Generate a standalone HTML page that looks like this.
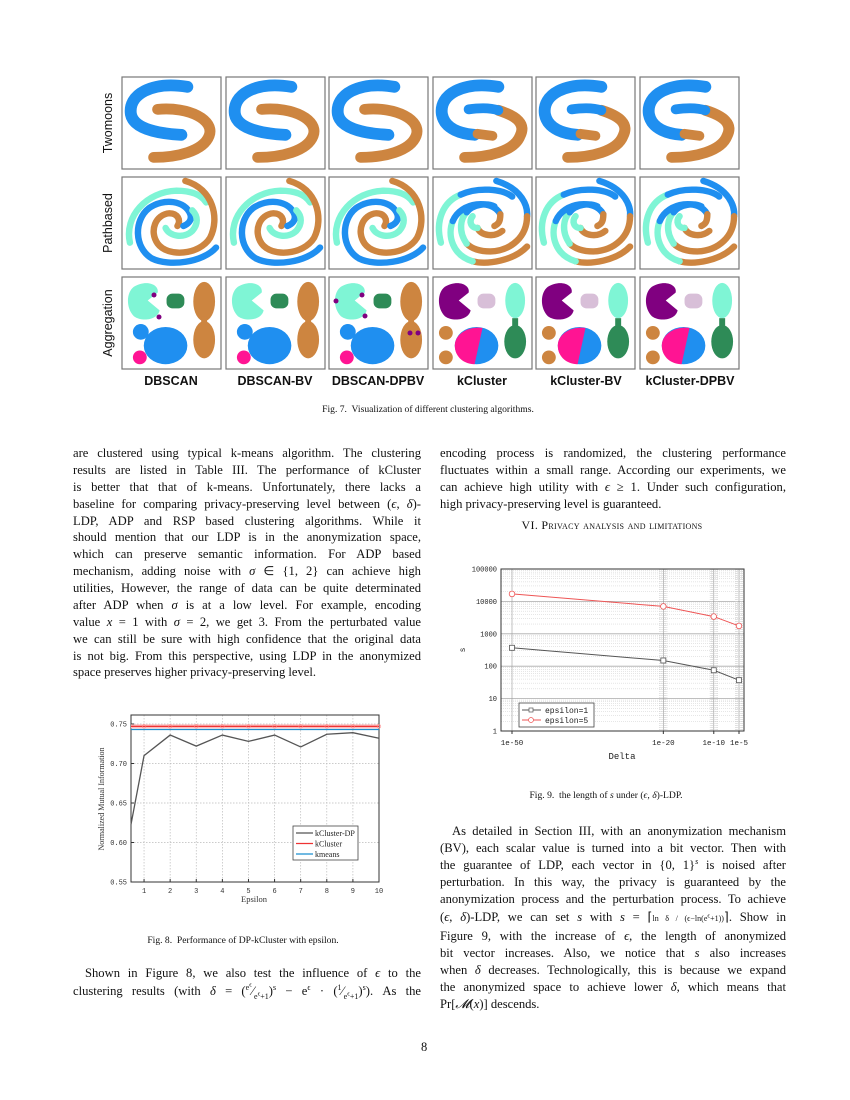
<!DOCTYPE html>
<html><head><meta charset="utf-8">
<style>
html,body{margin:0;padding:0;background:#fff;}
#page{position:relative;width:850px;height:1100px;overflow:hidden;font-family:"Liberation Serif",serif;color:#111;}
.ln{position:absolute;font-size:12.6px;line-height:15px;white-space:nowrap;text-align:justify;text-align-last:justify;}
.ln sup,.ln sub,.ln span{line-height:0;}
.L{left:73px;width:348px;}
.R{left:440px;width:346px;}
.cap{position:absolute;font-size:9.6px;white-space:nowrap;transform:translateX(-50%);}
.colh{position:absolute;font-family:"Liberation Sans",sans-serif;font-weight:bold;font-size:12.5px;transform:translateX(-50%);white-space:nowrap;}
.rowh{position:absolute;font-family:"Liberation Sans",sans-serif;font-size:12.5px;transform:translate(-50%,-50%) rotate(-90deg);white-space:nowrap;}
i{font-style:italic;}
svg text{font-family:"Liberation Mono",monospace;}
</style></head>
<body>
<div id="page">

<svg id="figs" width="850" height="1100" style="position:absolute;left:0;top:0">
  <defs>
    <g id="moons-db">
      <path d="M66 10 C30 4,6 18,9 38 C12 54,40 58,60 59" stroke="#1f8ff0" stroke-width="12" fill="none" stroke-linecap="round"/>
      <path d="M36 33 C68 30,94 44,88 60 C82 76,55 82,32 82" stroke="#cd8540" stroke-width="11" fill="none" stroke-linecap="round"/>
    </g>
    <g id="moons-k">
      <path d="M66 10 C30 4,6 18,9 38 C12 54,30 58,42 59" stroke="#1f8ff0" stroke-width="12" fill="none" stroke-linecap="round"/>
      <path d="M45 58 L60 60" stroke="#cd8540" stroke-width="10" fill="none" stroke-linecap="round"/>
      <path d="M66 34 C85 40,94 48,88 60 C82 76,55 82,32 82" stroke="#cd8540" stroke-width="11" fill="none" stroke-linecap="round"/>
      <path d="M36 33 C50 31,60 32,66 34" stroke="#1f8ff0" stroke-width="10" fill="none" stroke-linecap="round"/>
    </g>
    <g id="path-db" fill="none" stroke-width="6.5" stroke-linecap="round">
      <path d="M8 67 C2 40,25 15,55 14 C70 14,80 18,85 26" stroke="#7ff5d5"/>
      <path d="M64 4 C92 12,99 42,89 62 C78 80,46 82,36 68 C27 55,34 38,48 37 C56 37,60 44,56 50" stroke="#cd8540"/>
      <path d="M95 72 C82 87,48 92,30 83 C12 72,12 44,27 32 C42 21,64 24,69 38 C71 44,67 48,62 50" stroke="#1f8ff0"/>
      <path d="M44 52 C48 61,63 63,71 55 C77 48,77 40,71 34" stroke="#7ff5d5"/>
    </g>
    <g id="path-k" fill="none" stroke-width="6.5" stroke-linecap="round">
      <path d="M8 67 C2 45,10 25,28 18" stroke="#7ff5d5"/>
      <path d="M28 18 C45 10,70 12,80 20" stroke="#1f8ff0"/>
      <path d="M64 4 C90 12,96 30,95 40" stroke="#1f8ff0"/>
      <path d="M95 40 C95 60,80 75,58 76 C45 76,38 72,34 68" stroke="#cd8540"/>
      <path d="M34 68 C25 55,28 42,34 36" stroke="#7ff5d5"/>
      <path d="M34 36 C40 28,55 26,62 30" stroke="#1f8ff0"/>
      <path d="M95 71 C82 85,55 90,40 86" stroke="#cd8540"/>
      <path d="M40 86 C20 80,14 60,20 45" stroke="#7ff5d5"/>
      <path d="M20 45 C28 25,60 22,68 38" stroke="#1f8ff0"/>
      <path d="M68 38 C68 46,66 48,62 50" stroke="#cd8540"/>
      <path d="M45 52 C48 60,62 62,70 55" stroke="#cd8540"/>
      <path d="M40 40 C36 45,38 52,45 52" stroke="#7ff5d5"/>
    </g>
    <g id="agg-db">
      <path d="M12 10 C25 2,38 8,36 16 L26 24 L38 34 C36 44,20 46,12 40 C4 32,4 16,12 10Z" fill="#7ff5d5"/>
      <rect x="45" y="17" width="18" height="15" rx="6" fill="#2e8b57"/>
      <ellipse cx="83" cy="25" rx="11" ry="20" fill="#cd8540"/>
      <ellipse cx="83" cy="64" rx="11" ry="19" fill="#cd8540"/>
      <rect x="80" y="40" width="6" height="10" fill="#cd8540"/>
      <ellipse cx="44" cy="70" rx="22" ry="19" fill="#1f8ff0"/>
      <circle cx="19" cy="56" r="8" fill="#1f8ff0"/>
      <circle cx="18" cy="82" r="7" fill="#ff1493"/>
    </g>
    <g id="agg-k">
      <path d="M12 10 C25 2,38 8,36 16 L26 24 L38 34 C36 44,20 46,12 40 C4 32,4 16,12 10Z" fill="#800080"/>
      <rect x="45" y="17" width="18" height="15" rx="6" fill="#d8bfd8"/>
      <ellipse cx="83" cy="24" rx="10" ry="18" fill="#7ff5d5"/>
      <ellipse cx="83" cy="66" rx="11" ry="17" fill="#2e8b57"/>
      <rect x="80" y="42" width="6" height="10" fill="#2e8b57"/>
      <ellipse cx="44" cy="70" rx="22" ry="19" fill="#1f8ff0"/>
      <path d="M50 52 C36 50,22 58,22 70 C22 82,32 89,42 89 Z" fill="#ff1493"/>
      <circle cx="13" cy="57" r="7" fill="#cd8540"/>
      <circle cx="13" cy="82" r="7" fill="#cd8540"/>
    </g>
  </defs>
  <g id="panels"></g>

  <g id="fig8"></g>
  <g id="fig9"></g>
</svg>

<div class="rowh" style="left:108px;top:123px">Twomoons</div>
<div class="rowh" style="left:108px;top:223px">Pathbased</div>
<div class="rowh" style="left:108px;top:323px">Aggregation</div>
<div class="colh" style="left:171px;top:374px">DBSCAN</div>
<div class="colh" style="left:275px;top:374px">DBSCAN-BV</div>
<div class="colh" style="left:378px;top:374px">DBSCAN-DPBV</div>
<div class="colh" style="left:482px;top:374px">kCluster</div>
<div class="colh" style="left:586px;top:374px">kCluster-BV</div>
<div class="colh" style="left:690px;top:374px">kCluster-DPBV</div>
<div class="cap" style="left:428px;top:404px">Fig. 7.&nbsp; Visualization of different clustering algorithms.</div>

<div>
<div class="ln L" style="top:446px">are clustered using typical k-means algorithm. The clustering</div>
<div class="ln L" style="top:463px">results are listed in Table III. The performance of kCluster</div>
<div class="ln L" style="top:480px">is better that that of k-means. Unfortunately, there lacks a</div>
<div class="ln L" style="top:497px">baseline for comparing privacy-preserving level between (<i>ϵ</i>, <i>δ</i>)-</div>
<div class="ln L" style="top:514px">LDP, ADP and RSP based clustering algorithms. While it</div>
<div class="ln L" style="top:530px">should mention that our LDP is in the anonymization space,</div>
<div class="ln L" style="top:547px">which can preserve semantic information. For ADP based</div>
<div class="ln L" style="top:564px">mechanism, adding noise with <i>σ</i> ∈ {1, 2} can achieve high</div>
<div class="ln L" style="top:581px">utilities, However, the range of data can be quite determinated</div>
<div class="ln L" style="top:598px">after ADP when <i>σ</i> is at a low level. For example, encoding</div>
<div class="ln L" style="top:615px">value <i>x</i> = 1 with <i>σ</i> = 2, we get 3. From the perturbated value</div>
<div class="ln L" style="top:632px">we can still be sure with high confidence that the original data</div>
<div class="ln L" style="top:649px">is not big. From this perspective, using LDP in the anonymized</div>
<div class="ln L" style="top:665px;text-align-last:left">space preserves higher privacy-preserving level.</div>
</div>

<div class="cap" style="left:243px;top:935px">Fig. 8.&nbsp; Performance of DP-kCluster with epsilon.</div>
<div class="ln L" style="top:966px;text-indent:12px">Shown in Figure 8, we also test the influence of <i>ϵ</i> to the</div>
<div class="ln L" style="top:984px">clustering results (with <i>δ</i> = (<sup style="font-size:8px">e<sup>ϵ</sup></sup>⁄<sub style="font-size:8px">e<sup>ϵ</sup>+1</sub>)<sup style="font-size:8px">s</sup> − e<sup style="font-size:8px">ϵ</sup> · (<sup style="font-size:8px">1</sup>⁄<sub style="font-size:8px">e<sup>ϵ</sup>+1</sub>)<sup style="font-size:8px">s</sup>). As the</div>

<div>
<div class="ln R" style="top:446px">encoding process is randomized, the clustering performance</div>
<div class="ln R" style="top:463px">fluctuates within a small range. According our experiments, we</div>
<div class="ln R" style="top:480px">can achieve high utility with <i>ϵ</i> ≥ 1. Under such configuration,</div>
<div class="ln R" style="top:497px;text-align-last:left">high privacy-preserving level is guaranteed.</div>
<div style="position:absolute;left:612px;top:518px;transform:translateX(-50%);font-size:12px;white-space:nowrap;font-variant:small-caps;letter-spacing:0.3px">VI. Privacy analysis and limitations</div>
<div class="cap" style="left:606px;top:790px">Fig. 9.&nbsp; the length of <i>s</i> under (<i>ϵ</i>, <i>δ</i>)-LDP.</div>
<div class="ln R" style="top:824px;text-indent:12px">As detailed in Section III, with an anonymization mechanism</div>
<div class="ln R" style="top:841px">(BV), each scalar value is turned into a bit vector. Then with</div>
<div class="ln R" style="top:858px">the guarantee of LDP, each vector in {0, 1}<sup style="font-size:8px"><i>s</i></sup> is noised after</div>
<div class="ln R" style="top:875px">perturbation. In this way, the privacy is guaranteed by the</div>
<div class="ln R" style="top:892px">anonymization process and the perturbation process. To achieve</div>
<div class="ln R" style="top:910px">(<i>ϵ</i>, <i>δ</i>)-LDP, we can set <i>s</i> with <i>s</i> = ⌈<span style="font-size:8px">ln δ / (ϵ−ln(e<sup>ϵ</sup>+1))</span>⌉. Show in</div>
<div class="ln R" style="top:929px">Figure 9, with the increase of <i>ϵ</i>, the length of anonymized</div>
<div class="ln R" style="top:946px">bit vector increases. Also, we notice that <i>s</i> also increases</div>
<div class="ln R" style="top:963px">when <i>δ</i> decreases. Technologically, this is because we expand</div>
<div class="ln R" style="top:980px">the anonymized space to achieve lower <i>δ</i>, which means that</div>
<div class="ln R" style="top:997px;text-align-last:left">Pr[<i>𝓜</i>(<i>x</i>)] descends.</div>
</div>
<div style="position:absolute;left:421px;top:1040px;font-size:12.5px">8</div>

</div>
<script>
const NS='http://www.w3.org/2000/svg';
function mk(tag,attrs,parent){const e=document.createElementNS(NS,tag);for(const k in attrs)e.setAttribute(k,attrs[k]);parent.appendChild(e);return e;}

/* ---------- Fig 7 panels ---------- */
const panelCols=[122,226,329,433,536,640];
const panelRows=[77,177,277];
const rowKinds=[['moons-db','moons-db','moons-db','moons-k','moons-k','moons-k'],
 ['path-db','path-db','path-db','path-k','path-k','path-k'],
 ['agg-db','agg-db','agg-db','agg-k','agg-k','agg-k']];
const pg=document.getElementById('panels');
panelRows.forEach((py,r)=>panelCols.forEach((px,c)=>{
  const g=mk('g',{transform:`translate(${px},${py})`},pg);
  
  
  mk('rect',{x:0,y:0,width:99,height:92,fill:'#fff',stroke:'#777','stroke-width':1.2},g);
  mk('use',{href:'#'+rowKinds[r][c],transform:'scale(0.99,0.98)'},g);
}));
[[0,[[32,18],[37,40]]],[2,[[7,24],[33,18],[36,39],[81,56],[89,56]]]].forEach(([c,pts])=>{
  pts.forEach(p=>{const d=mk('circle',{cx:panelCols[c]+p[0],cy:panelRows[2]+p[1],r:2.5,fill:'#800080'},pg);
    });
});

/* ---------- Fig 8 ---------- */
const f8Eps=[0.5,1,2,3,4,5,6,7,8,9,10];
const f8KDP=[0.623,0.710,0.736,0.722,0.736,0.728,0.736,0.721,0.737,0.739,0.732];
const f8KCluster=[0.747,0.747,0.747,0.747,0.747,0.747,0.747,0.747,0.747,0.747,0.747];
const f8Kmeans=[0.743,0.743,0.743,0.743,0.743,0.743,0.743,0.743,0.743,0.743,0.743];
const f8YTicks=[0.55,0.60,0.65,0.70,0.75];
const f8XTicks=[1,2,3,4,5,6,7,8,9,10];
(function(){
  const g=document.getElementById('fig8');
  const x0=131,x1=379,y0=882,yTop=715;
  const xs=v=>x0+(v-0.5)/(10-0.5)*(x1-x0);
  const ys=v=>y0-(v-0.55)/(0.05)*39.5;
  f8YTicks.forEach(t=>{
    mk('line',{x1:x0,x2:x1,y1:ys(t),y2:ys(t),stroke:'#bbb','stroke-dasharray':'1.5,1.5','stroke-width':0.7},g);
    mk('line',{x1:x0,x2:x0+3,y1:ys(t),y2:ys(t),stroke:'#333'},g);
    const tx=mk('text',{x:x0-4,y:ys(t)+2.5,'font-size':7,'text-anchor':'end',fill:'#333'},g);tx.textContent=t.toFixed(2);
  });
  f8XTicks.forEach(t=>{
    mk('line',{x1:xs(t),x2:xs(t),y1:yTop,y2:y0,stroke:'#bbb','stroke-dasharray':'1.5,1.5','stroke-width':0.7},g);
    mk('line',{x1:xs(t),x2:xs(t),y1:y0,y2:y0-3,stroke:'#333'},g);
    const tx=mk('text',{x:xs(t),y:y0+11,'font-size':7,'text-anchor':'middle',fill:'#333'},g);tx.textContent=t;
  });
  mk('rect',{x:x0,y:yTop,width:x1-x0,height:y0-yTop,fill:'none',stroke:'#333','stroke-width':1},g);
  const pts=a=>a.map((v,i)=>xs(f8Eps[i])+','+ys(v)).join(' ');
  mk('polyline',{points:pts(f8KCluster),fill:'none',stroke:'#fbb','stroke-width':4},g);
  const kc=mk('polyline',{points:pts(f8KCluster),fill:'none',stroke:'#e33','stroke-width':1.2},g);
  
  const km=mk('polyline',{points:pts(f8Kmeans),fill:'none',stroke:'#1a8fd0','stroke-width':1.2},g);
  
  const kd=mk('polyline',{points:pts(f8KDP),fill:'none',stroke:'#555','stroke-width':1.3},g);
  
  f8KCluster.forEach((v,i)=>{if(i>0)mk('circle',{cx:xs(f8Eps[i]),cy:ys(v),r:1.8,fill:'none',stroke:'#f88','stroke-width':0.6},g);});
  const xl=mk('text',{x:254,y:902,'font-size':8.5,'text-anchor':'middle',fill:'#333'},g);xl.textContent='Epsilon';
  xl.setAttribute('style','font-family:Liberation Serif,serif');
  const yl=mk('text',{x:0,y:0,'font-size':8,'text-anchor':'middle',transform:'translate(104,799) rotate(-90)',fill:'#333',style:'font-family:Liberation Serif,serif'},g);yl.textContent='Normalized Mutual Information';
  const lg=mk('g',{},g);
  mk('rect',{x:293,y:826,width:65,height:34,fill:'#fff',stroke:'#444','stroke-width':0.8},lg);
  [['kCluster-DP','#555',833],['kCluster','#e33',843.5],['kmeans','#1a8fd0',854]].forEach(e=>{
    mk('line',{x1:296,x2:313,y1:e[2],y2:e[2],stroke:e[1],'stroke-width':1.3},lg);
    const t=mk('text',{x:315,y:e[2]+3,'font-size':8,fill:'#222',style:'font-family:Liberation Serif,serif'},lg);t.textContent=e[0];
  });
})();

/* ---------- Fig 9 ---------- */
const f9DeltaExp=[-50,-20,-10,-5];
const f9XLabels=['1e-50','1e-20','1e-10','1e-5'];
const f9Eps1=[370,150,75,37];
const f9Eps5=[17000,7000,3400,1750];
const f9YTicks=[1,10,100,1000,10000,100000];
(function(){
  const g=document.getElementById('fig9');
  const x0=501,x1=744,y0=731,yT=569;
  const xs=e=>512+(e+50)*((739-512)/45);
  const ys=v=>y0-Math.log10(v)*(y0-yT)/5;
  for(let d=0;d<5;d++)for(let m=2;m<10;m++){const v=Math.pow(10,d)*m;
    mk('line',{x1:x0,x2:x1,y1:ys(v),y2:ys(v),stroke:'#ccc','stroke-dasharray':'1,1','stroke-width':0.5},g);}
  f9YTicks.forEach(t=>{
    mk('line',{x1:x0,x2:x1,y1:ys(t),y2:ys(t),stroke:'#aaa','stroke-width':0.8},g);
    const tx=mk('text',{x:x0-4,y:ys(t)+2.5,'font-size':7,'text-anchor':'end',fill:'#222'},g);tx.textContent=t;
  });
  f9DeltaExp.forEach((e,i)=>{
    for(let k=-3;k<=3;k++){ if(i===0&&k!==0)continue;
      mk('line',{x1:xs(e)+k*1.2,x2:xs(e)+k*1.2,y1:yT,y2:y0,stroke:k===0?'#999':'#ccc','stroke-width':0.6,'stroke-dasharray':k===0?'':'1,1'},g);}
    mk('line',{x1:xs(e),x2:xs(e),y1:y0,y2:y0+3,stroke:'#333'},g);
    const tx=mk('text',{x:xs(e),y:y0+14,'font-size':7.5,'text-anchor':'middle',fill:'#222'},g);tx.textContent=f9XLabels[i];
  });
  mk('rect',{x:x0,y:yT,width:x1-x0,height:y0-yT,fill:'none',stroke:'#333','stroke-width':1},g);
  const pts=a=>a.map((v,i)=>xs(f9DeltaExp[i])+','+ys(v)).join(' ');
  const l1=mk('polyline',{points:pts(f9Eps1),fill:'none',stroke:'#555','stroke-width':1},g);
  
  f9Eps1.forEach((v,i)=>mk('rect',{x:xs(f9DeltaExp[i])-2.5,y:ys(v)-2.5,width:5,height:5,fill:'#fff',stroke:'#555','stroke-width':0.8},g));
  const l5=mk('polyline',{points:pts(f9Eps5),fill:'none',stroke:'#e55','stroke-width':1},g);
  
  f9Eps5.forEach((v,i)=>mk('circle',{cx:xs(f9DeltaExp[i]),cy:ys(v),r:2.8,fill:'#fff',stroke:'#e55','stroke-width':0.8},g));
  const xl=mk('text',{x:622,y:759,'font-size':9,'text-anchor':'middle',fill:'#222'},g);xl.textContent='Delta';
  const yl=mk('text',{x:0,y:0,'font-size':8,'text-anchor':'middle',transform:'translate(465,650) rotate(-90)',fill:'#222'},g);yl.textContent='s';
  const lg=mk('g',{},g);
  mk('rect',{x:519,y:703,width:75,height:24,fill:'#fff',stroke:'#444','stroke-width':0.8},lg);
  [['epsilon=1','#555',710,'sq'],['epsilon=5','#e55',720,'ci']].forEach(e=>{
    mk('line',{x1:522,x2:541,y1:e[2],y2:e[2],stroke:e[1],'stroke-width':1},lg);
    if(e[3]==='sq')mk('rect',{x:529,y:e[2]-2,width:4,height:4,fill:'#fff',stroke:e[1],'stroke-width':0.7},lg);
    else mk('circle',{cx:531,cy:e[2],r:2.5,fill:'#fff',stroke:e[1],'stroke-width':0.7},lg);
    const t=mk('text',{x:545,y:e[2]+3,'font-size':8,fill:'#222'},lg);t.textContent=e[0];
  });
})();
</script>
</body></html>
